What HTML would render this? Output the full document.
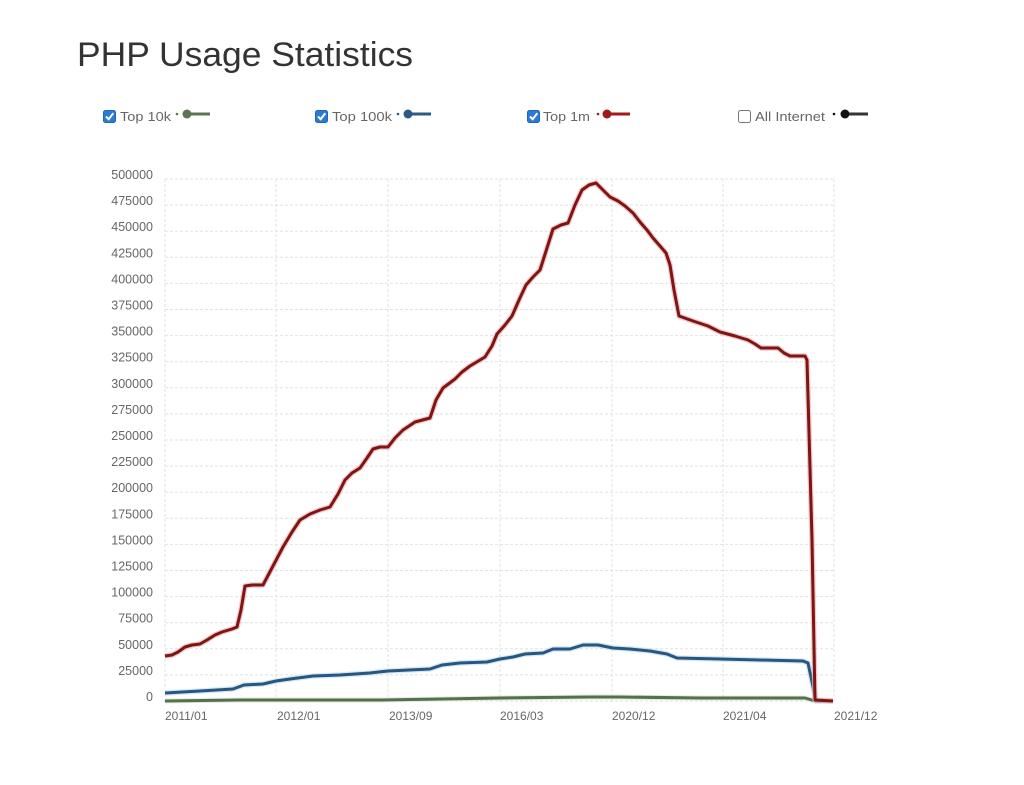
<!DOCTYPE html>
<html>
<head>
<meta charset="utf-8">
<style>
  html, body { margin:0; padding:0; background:#ffffff; }
  body { width:1024px; height:785px; overflow:hidden; }
  svg { display:block; }
  text { font-family: "Liberation Sans", "DejaVu Sans", sans-serif; }
</style>
</head>
<body>
<svg width="1024" height="785" viewBox="0 0 1024 785" xmlns="http://www.w3.org/2000/svg">
  <rect x="0" y="0" width="1024" height="785" fill="#ffffff"/>

  <!-- Title -->
  <text x="77" y="66" font-size="34" fill="#333333" textLength="336" lengthAdjust="spacingAndGlyphs">PHP Usage Statistics</text>

  <!-- Legend -->
  <g font-size="13" fill="#666666">
    <!-- Top 10k -->
    <rect x="103.5" y="110.5" width="12" height="12" rx="2" fill="#2b7bd6" stroke="#1f66b8" stroke-width="1"/>
    <path d="M106 116.5 L108.7 119.2 L113.3 113.2" fill="none" stroke="#ffffff" stroke-width="2"/>
    <text x="120" y="121" textLength="51" lengthAdjust="spacingAndGlyphs">Top 10k</text>
    <circle cx="177" cy="114" r="1.3" fill="#5b7553"/>
    <circle cx="187" cy="114" r="4.5" fill="#5b7553"/>
    <line x1="191" y1="114" x2="210" y2="114" stroke="#5b7553" stroke-width="3"/>

    <!-- Top 100k -->
    <rect x="315.5" y="110.5" width="12" height="12" rx="2" fill="#2b7bd6" stroke="#1f66b8" stroke-width="1"/>
    <path d="M318 116.5 L320.7 119.2 L325.3 113.2" fill="none" stroke="#ffffff" stroke-width="2"/>
    <text x="332" y="121" textLength="60" lengthAdjust="spacingAndGlyphs">Top 100k</text>
    <circle cx="398" cy="114" r="1.3" fill="#2c5a88"/>
    <circle cx="408" cy="114" r="4.5" fill="#2c5a88"/>
    <line x1="412" y1="114" x2="431" y2="114" stroke="#2c5a88" stroke-width="3"/>

    <!-- Top 1m -->
    <rect x="527.5" y="110.5" width="12" height="12" rx="2" fill="#2b7bd6" stroke="#1f66b8" stroke-width="1"/>
    <path d="M530 116.5 L532.7 119.2 L537.3 113.2" fill="none" stroke="#ffffff" stroke-width="2"/>
    <text x="543" y="121" textLength="47" lengthAdjust="spacingAndGlyphs">Top 1m</text>
    <circle cx="598" cy="114" r="1.3" fill="#a01a1a"/>
    <circle cx="607" cy="114" r="4.5" fill="#a01a1a"/>
    <line x1="611" y1="114" x2="630" y2="114" stroke="#a01a1a" stroke-width="3"/>

    <!-- All Internet -->
    <rect x="738.5" y="110.5" width="12" height="12" rx="2" fill="#ffffff" stroke="#777777" stroke-width="1"/>
    <text x="755" y="121" textLength="70" lengthAdjust="spacingAndGlyphs">All Internet</text>
    <circle cx="834" cy="114" r="1.3" fill="#111111"/>
    <circle cx="845" cy="114" r="4.5" fill="#111111"/>
    <line x1="849" y1="114" x2="868" y2="114" stroke="#333333" stroke-width="3"/>
  </g>

  <!-- Horizontal gridlines -->
  <g stroke="#e2e2e2" stroke-width="1" stroke-dasharray="3,2">
    <line x1="165" y1="179" x2="834" y2="179"/>
    <line x1="165" y1="205.1" x2="834" y2="205.1"/>
    <line x1="165" y1="231.2" x2="834" y2="231.2"/>
    <line x1="165" y1="257.3" x2="834" y2="257.3"/>
    <line x1="165" y1="283.4" x2="834" y2="283.4"/>
    <line x1="165" y1="309.5" x2="834" y2="309.5"/>
    <line x1="165" y1="335.6" x2="834" y2="335.6"/>
    <line x1="165" y1="361.7" x2="834" y2="361.7"/>
    <line x1="165" y1="387.8" x2="834" y2="387.8"/>
    <line x1="165" y1="413.9" x2="834" y2="413.9"/>
    <line x1="165" y1="440" x2="834" y2="440"/>
    <line x1="165" y1="466.1" x2="834" y2="466.1"/>
    <line x1="165" y1="492.2" x2="834" y2="492.2"/>
    <line x1="165" y1="518.3" x2="834" y2="518.3"/>
    <line x1="165" y1="544.4" x2="834" y2="544.4"/>
    <line x1="165" y1="570.5" x2="834" y2="570.5"/>
    <line x1="165" y1="596.6" x2="834" y2="596.6"/>
    <line x1="165" y1="622.7" x2="834" y2="622.7"/>
    <line x1="165" y1="648.8" x2="834" y2="648.8"/>
    <line x1="165" y1="674.9" x2="834" y2="674.9"/>
    <line x1="165" y1="701" x2="834" y2="701"/>
  </g>
  <!-- Vertical gridlines -->
  <g stroke="#e2e2e2" stroke-width="1" stroke-dasharray="3,2">
    <line x1="165" y1="179" x2="165" y2="703"/>
    <line x1="276" y1="179" x2="276" y2="703"/>
    <line x1="388" y1="179" x2="388" y2="703"/>
    <line x1="500" y1="179" x2="500" y2="703"/>
    <line x1="612" y1="179" x2="612" y2="703"/>
    <line x1="723" y1="179" x2="723" y2="703"/>
    <line x1="834" y1="179" x2="834" y2="703"/>
  </g>

  <!-- Y axis labels -->
  <g font-size="12.5" fill="#666666" text-anchor="end">
    <text x="153" y="179">500000</text>
    <text x="153" y="205.1">475000</text>
    <text x="153" y="231.2">450000</text>
    <text x="153" y="257.3">425000</text>
    <text x="153" y="283.4">400000</text>
    <text x="153" y="309.5">375000</text>
    <text x="153" y="335.6">350000</text>
    <text x="153" y="361.7">325000</text>
    <text x="153" y="387.8">300000</text>
    <text x="153" y="413.9">275000</text>
    <text x="153" y="440">250000</text>
    <text x="153" y="466.1">225000</text>
    <text x="153" y="492.2">200000</text>
    <text x="153" y="518.3">175000</text>
    <text x="153" y="544.4">150000</text>
    <text x="153" y="570.5">125000</text>
    <text x="153" y="596.6">100000</text>
    <text x="153" y="622.7">75000</text>
    <text x="153" y="648.8">50000</text>
    <text x="153" y="674.9">25000</text>
    <text x="153" y="701">0</text>
  </g>

  <!-- X axis labels -->
  <g font-size="12" fill="#666666">
    <text x="165" y="720">2011/01</text>
    <text x="277" y="720">2012/01</text>
    <text x="389" y="720">2013/09</text>
    <text x="500" y="720">2016/03</text>
    <text x="612" y="720">2020/12</text>
    <text x="723" y="720">2021/04</text>
    <text x="834" y="720">2021/12</text>
  </g>

  <!-- Series: Top 10k (green) -->
  <polyline fill="none" stroke="#cfe0c8" stroke-width="5" stroke-linejoin="round" opacity="0.6"
    points="165,701 240,700 380,700 500,698 590,697 620,697 700,698 805,698 815,701 833,701"/>
  <polyline fill="none" stroke="#566f4e" stroke-width="3" stroke-linejoin="round"
    points="165,701 240,700 380,700 500,698 590,697 620,697 700,698 805,698 815,701 833,701"/>

  <!-- Series: Top 100k (blue) -->
  <polyline fill="none" stroke="#bfe0f5" stroke-width="5.5" stroke-linejoin="round" opacity="0.7"
    points="165,693 200,691 233,689 244,685 263,684 276,681 290,679 313,676 340,675 370,673 388,671 430,669 442,665 460,663 487,662 500,659 513,657 525,654 543,653 553,649 570,649 583,645 598,645 613,648 630,649 650,651 667,654 677,658 720,659 760,660 803,661 808,663 816,701 833,701"/>
  <polyline fill="none" stroke="#2a557f" stroke-width="3" stroke-linejoin="round"
    points="165,693 200,691 233,689 244,685 263,684 276,681 290,679 313,676 340,675 370,673 388,671 430,669 442,665 460,663 487,662 500,659 513,657 525,654 543,653 553,649 570,649 583,645 598,645 613,648 630,649 650,651 667,654 677,658 720,659 760,660 803,661 808,663 816,701 833,701"/>

  <!-- Series: Top 1m (red) -->
  <polyline fill="none" stroke="#f0b0b0" stroke-width="5.5" stroke-linejoin="round" opacity="0.7"
    points="165,656 172,655 178,652 185,647 192,645 200,644 207,640 215,635 222,632 232,629 237,627 241,610 245,586 252,585 263,585 273,566 283,547 292,532 300,520 310,514 320,510 330,507 338,494 345,480 352,473 360,468 367,458 373,449 380,447 388,447 395,438 403,430 415,422 430,418 436,400 443,388 455,379 462,372 470,366 485,357 492,346 497,334 505,325 512,316 519,300 526,285 533,277 540,270 547,248 553,229 561,225 568,223 575,205 582,190 589,185 596,183 603,190 610,197 618,201 625,206 633,213 640,222 647,230 653,238 660,246 666,253 670,265 674,290 679,316 693,321 708,326 720,332 735,336 748,340 755,344 761,348 778,348 784,353 790,356 805,356 807,360 812,540 815,700 833,701"/>
  <polyline fill="none" stroke="#7d1515" stroke-width="3" stroke-linejoin="round"
    points="165,656 172,655 178,652 185,647 192,645 200,644 207,640 215,635 222,632 232,629 237,627 241,610 245,586 252,585 263,585 273,566 283,547 292,532 300,520 310,514 320,510 330,507 338,494 345,480 352,473 360,468 367,458 373,449 380,447 388,447 395,438 403,430 415,422 430,418 436,400 443,388 455,379 462,372 470,366 485,357 492,346 497,334 505,325 512,316 519,300 526,285 533,277 540,270 547,248 553,229 561,225 568,223 575,205 582,190 589,185 596,183 603,190 610,197 618,201 625,206 633,213 640,222 647,230 653,238 660,246 666,253 670,265 674,290 679,316 693,321 708,326 720,332 735,336 748,340 755,344 761,348 778,348 784,353 790,356 805,356 807,360 812,540 815,700 833,701"/>
</svg>
</body>
</html>
